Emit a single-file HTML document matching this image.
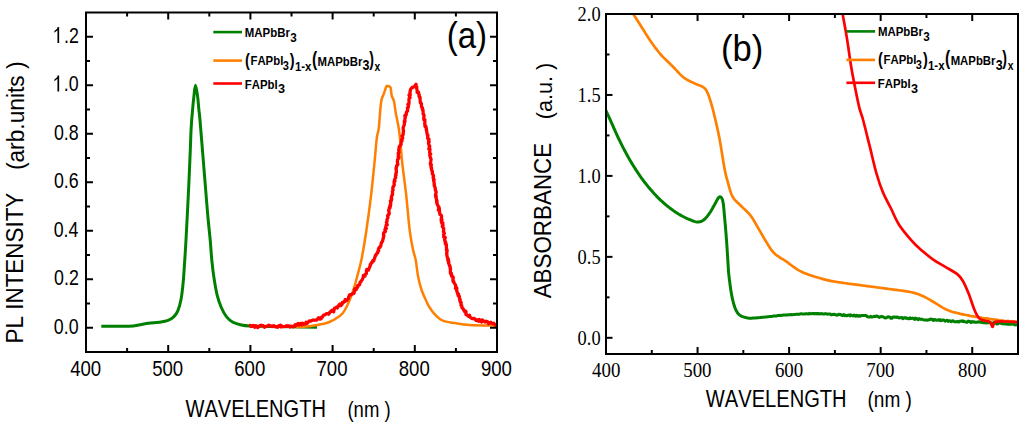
<!DOCTYPE html>
<html><head><meta charset="utf-8"><style>html,body{margin:0;padding:0;background:#fff;width:1024px;height:427px;overflow:hidden}svg{display:block}</style></head>
<body><svg width="1024" height="427" viewBox="0 0 1024 427" style="font-kerning:none">
<rect width="1024" height="427" fill="#fff"/>
<path d="M101.30,326.20 C105.92,326.20 122.55,326.45 129.00,326.20 C135.45,325.95 136.77,325.18 140.00,324.70 C143.23,324.22 145.23,323.72 148.40,323.30 C151.57,322.88 155.83,322.63 159.00,322.20 C162.17,321.77 164.95,321.58 167.40,320.70 C169.85,319.82 171.95,318.58 173.70,316.90 C175.45,315.22 176.67,313.58 177.90,310.60 C179.13,307.62 180.22,303.73 181.10,299.00 C181.98,294.27 182.60,288.52 183.20,282.20 C183.80,275.88 184.23,268.13 184.70,261.10 C185.17,254.07 185.57,247.68 186.00,240.00 C186.43,232.32 186.83,224.17 187.30,215.00 C187.77,205.83 188.30,195.83 188.80,185.00 C189.30,174.17 189.92,159.30 190.30,150.00 C190.68,140.70 190.77,135.40 191.10,129.20 C191.43,123.00 191.83,118.27 192.30,112.80 C192.77,107.33 193.37,101.00 193.90,96.40 C194.43,91.80 194.88,85.20 195.50,85.20 C196.12,85.20 197.03,92.27 197.60,96.40 C198.17,100.53 198.50,106.07 198.90,110.00 C199.30,113.93 199.28,111.67 200.00,120.00 C200.72,128.33 202.17,146.67 203.25,160.00 C204.33,173.33 205.68,190.00 206.50,200.00 C207.32,210.00 207.58,213.33 208.20,220.00 C208.82,226.67 209.58,233.15 210.20,240.00 C210.82,246.85 211.27,254.78 211.90,261.10 C212.53,267.42 213.13,272.28 214.00,277.90 C214.87,283.52 215.88,289.87 217.10,294.80 C218.32,299.73 219.72,303.82 221.30,307.50 C222.88,311.18 224.67,314.45 226.60,316.90 C228.53,319.35 230.43,320.85 232.90,322.20 C235.37,323.55 238.58,324.37 241.40,325.00 C244.22,325.63 245.03,325.77 249.80,326.00 C254.57,326.23 263.30,326.27 270.00,326.40 C276.70,326.53 282.17,326.67 290.00,326.80 C297.83,326.93 312.50,327.13 317.00,327.20" fill="none" stroke="#008000" stroke-width="3.00" stroke-linejoin="round" stroke-linecap="butt"/>
<path d="M296.00,327.20 C298.50,327.00 306.17,326.62 311.00,326.00 C315.83,325.38 321.47,324.38 325.00,323.50 C328.53,322.62 329.25,322.40 332.20,320.70 C335.15,319.00 339.53,317.35 342.70,313.30 C345.87,309.25 348.73,302.73 351.20,296.40 C353.67,290.07 355.75,281.63 357.50,275.30 C359.25,268.97 360.22,265.90 361.70,258.40 C363.18,250.90 364.83,240.85 366.40,230.30 C367.97,219.75 369.77,206.23 371.10,195.10 C372.43,183.97 373.45,172.98 374.40,163.50 C375.35,154.02 376.07,144.12 376.80,138.20 C377.53,132.28 378.18,133.15 378.80,128.00 C379.42,122.85 380.02,112.12 380.50,107.30 C380.98,102.48 381.12,101.42 381.70,99.10 C382.28,96.78 383.22,95.52 384.00,93.40 C384.78,91.28 385.72,87.60 386.40,86.40 C387.08,85.20 387.42,86.03 388.10,86.20 C388.78,86.37 389.90,85.83 390.50,87.40 C391.10,88.97 391.12,93.27 391.70,95.60 C392.28,97.93 393.32,98.48 394.00,101.40 C394.68,104.32 395.02,108.67 395.80,113.10 C396.58,117.53 397.90,122.75 398.70,128.00 C399.50,133.25 400.00,138.68 400.60,144.60 C401.20,150.52 401.37,155.08 402.30,163.50 C403.23,171.92 404.97,183.97 406.20,195.10 C407.43,206.23 408.55,221.15 409.70,230.30 C410.85,239.45 412.10,245.05 413.10,250.00 C414.10,254.95 414.87,255.60 415.70,260.00 C416.53,264.40 417.15,271.48 418.10,276.40 C419.05,281.32 420.03,285.40 421.40,289.50 C422.77,293.60 424.93,298.00 426.30,301.00 C427.67,304.00 428.10,305.18 429.60,307.50 C431.10,309.82 433.12,312.70 435.30,314.90 C437.48,317.10 439.42,319.33 442.70,320.70 C445.98,322.07 450.52,322.40 455.00,323.10 C459.48,323.80 462.77,324.50 469.60,324.90 C476.43,325.30 491.60,325.40 496.00,325.50" fill="none" stroke="#ff8000" stroke-width="2.50" stroke-linejoin="round" stroke-linecap="butt"/>
<path d="M249.07,325.59 L250.17,325.38 L250.83,326.14 L251.12,326.50 L252.12,326.30 L253.28,325.40 L254.93,327.31 L255.80,325.73 L257.77,327.61 L259.07,326.16 L260.98,325.24 L262.24,325.86 L262.73,325.40 L264.36,327.20 L265.59,326.57 L267.56,326.01 L268.78,325.19 L269.43,325.54 L271.43,326.09 L272.17,326.49 L273.59,325.74 L275.29,326.77 L275.84,326.44 L277.48,327.21 L279.02,325.68 L280.62,325.23 L281.16,326.87 L282.08,326.16 L283.19,326.60 L285.37,326.32 L286.73,325.60 L287.69,326.28 L288.70,325.86 L290.18,327.05 L290.80,326.23 L291.33,326.22 L293.50,326.81 L295.08,324.77 L295.81,325.55 L296.59,324.78 L298.00,323.62 L299.03,325.04 L300.28,323.41 L301.75,324.73 L302.47,323.33 L304.20,324.15 L305.66,323.78 L306.08,322.30 L307.32,323.20 L309.33,320.95 L309.56,320.81 L310.87,321.11 L312.56,320.16 L313.01,320.20 L314.69,320.20 L316.64,320.13 L317.23,319.54 L318.59,317.66 L319.99,319.12 L321.04,318.73 L321.46,317.24 L322.29,317.29 L323.38,315.25 L324.66,314.92 L325.89,314.04 L326.48,313.68 L327.62,313.60 L328.52,314.28 L330.29,311.71 L330.84,311.53 L332.02,310.22 L333.61,311.80 L334.07,309.77 L334.53,308.06 L335.82,307.74 L337.40,306.72 L337.31,308.00 L338.92,305.11 L339.89,303.99 L340.82,305.64 L342.21,304.07 L342.39,302.35 L343.15,302.62 L344.50,301.85 L345.12,299.62 L346.63,300.81 L347.57,299.53 L348.41,298.53 L348.53,297.10 L349.58,294.94 L350.04,294.67 L351.22,294.78 L353.01,293.13 L353.87,293.47 L354.60,290.95 L354.35,289.65 L355.03,288.62 L356.29,289.42 L357.28,287.29 L357.75,287.07 L357.72,285.63 L359.50,284.85 L359.99,282.96 L359.95,282.66 L360.85,281.58 L362.37,279.41 L362.32,279.74 L363.42,276.62 L363.32,275.49 L365.00,276.11 L364.70,275.04 L366.47,273.46 L366.34,272.03 L366.75,269.48 L368.53,269.97 L368.63,269.54 L369.18,268.23 L370.34,265.38 L370.24,264.48 L370.84,264.15 L371.46,262.67 L371.87,262.94 L372.70,260.80 L373.51,261.05 L374.06,259.75 L374.83,257.62 L375.44,255.30 L375.86,254.82 L375.80,255.54 L376.51,253.75 L377.73,252.90 L377.76,251.55 L378.67,250.74 L378.44,249.28 L378.97,247.64 L380.02,247.32 L380.11,247.04 L380.93,245.24 L380.92,244.40 L381.17,243.85 L381.48,242.36 L381.90,242.31 L382.57,240.98 L383.28,238.16 L383.18,238.68 L383.94,235.26 L383.41,234.68 L383.74,232.71 L384.14,232.32 L385.47,231.33 L384.89,229.89 L385.79,227.38 L386.32,228.46 L385.71,227.32 L386.19,224.97 L387.22,224.69 L386.40,222.44 L387.12,220.97 L386.97,219.66 L387.91,217.60 L387.96,217.40 L387.52,215.81 L388.57,214.96 L388.11,214.86 L389.31,213.49 L388.68,210.32 L388.85,210.33 L389.41,207.32 L389.86,208.04 L390.62,205.04 L389.99,205.47 L390.78,203.64 L390.39,200.73 L391.40,200.47 L390.82,200.62 L391.77,199.11 L391.26,198.14 L391.44,197.08 L392.14,194.68 L392.55,194.70 L392.45,191.18 L393.05,190.06 L392.75,188.52 L392.90,187.32 L393.46,186.33 L394.26,185.07 L394.13,183.58 L394.13,181.99 L394.20,180.83 L395.01,181.08 L394.49,179.75 L395.64,177.66 L395.68,177.38 L395.44,177.29 L395.49,175.29 L396.06,175.36 L395.80,173.78 L396.47,172.05 L396.27,170.05 L396.02,168.20 L396.24,168.48 L396.67,165.65 L396.65,166.07 L397.86,164.28 L397.29,161.81 L397.50,161.02 L397.52,159.65 L397.84,159.67 L398.95,157.29 L398.19,157.10 L398.45,154.28 L398.23,153.15 L399.02,152.32 L398.83,151.22 L398.74,149.56 L399.01,148.94 L399.10,147.06 L399.78,145.86 L400.44,145.37 L400.92,144.77 L401.13,144.59 L400.96,142.38 L402.00,140.99 L401.95,141.02 L401.41,139.77 L402.67,138.31 L402.63,137.76 L402.03,135.88 L402.68,135.48 L403.26,134.18 L403.16,133.01 L403.49,131.11 L403.09,127.98 L403.17,127.41 L403.33,127.21 L404.12,125.25 L404.40,123.99 L404.42,120.87 L405.01,121.50 L404.82,119.69 L405.20,117.30 L405.48,116.70 L404.79,115.76 L405.80,114.73 L406.28,114.72 L406.38,111.97 L406.75,111.99 L407.50,111.16 L407.70,108.83 L407.44,107.76 L408.40,106.90 L408.35,105.00 L407.86,104.41 L408.84,104.15 L409.02,101.69 L408.98,100.68 L409.09,98.32 L409.82,97.09 L410.11,97.62 L409.04,95.06 L410.26,95.18 L409.95,92.30 L409.82,93.16 L410.39,90.17 L410.86,88.86 L412.51,87.13 L413.02,87.42 L414.23,86.70 L414.63,86.27 L416.08,84.26 L415.85,86.20 L416.78,86.80 L416.70,88.25 L417.23,91.04 L417.12,92.33 L418.52,92.15 L418.95,94.95 L419.30,94.99 L418.99,96.16 L420.17,97.51 L419.73,98.08 L420.04,98.40 L420.28,102.27 L420.72,103.45 L420.89,102.73 L421.44,103.64 L421.49,106.82 L422.38,107.70 L422.29,109.27 L422.93,109.66 L422.89,109.74 L423.15,112.17 L423.42,114.06 L423.06,113.89 L424.14,115.44 L423.79,117.32 L423.80,119.62 L424.92,119.58 L424.78,121.02 L424.93,122.58 L424.71,123.27 L425.05,126.48 L425.71,125.96 L426.53,129.23 L426.22,128.24 L426.16,129.34 L426.63,130.56 L426.76,132.22 L427.43,135.07 L427.90,135.05 L427.69,136.56 L427.84,137.29 L427.62,138.34 L428.98,139.13 L428.54,141.63 L429.16,141.73 L428.54,142.98 L428.85,144.67 L429.70,146.89 L429.73,145.93 L428.77,148.90 L430.03,149.49 L429.77,149.47 L429.66,153.11 L430.37,154.19 L430.70,153.92 L429.72,155.02 L430.40,157.76 L431.08,159.24 L430.84,160.73 L430.73,161.55 L430.32,163.49 L430.71,165.15 L431.38,164.81 L430.84,165.88 L431.64,168.17 L431.10,167.58 L431.88,170.56 L431.94,170.93 L432.45,171.48 L432.30,173.70 L433.41,175.33 L433.59,176.27 L433.06,177.44 L434.16,179.62 L433.47,178.93 L433.89,181.79 L433.97,181.93 L434.48,184.96 L434.09,183.97 L434.43,186.33 L435.07,187.12 L435.42,189.90 L435.24,189.87 L436.04,191.48 L436.04,192.57 L435.46,195.19 L435.74,196.87 L436.19,195.99 L436.10,198.00 L436.93,200.73 L436.51,200.58 L436.85,203.33 L437.02,202.14 L437.17,204.19 L438.51,206.59 L438.55,207.99 L439.06,207.33 L438.34,209.98 L439.32,208.68 L439.55,210.98 L439.51,212.15 L439.59,212.53 L440.06,214.63 L441.27,215.23 L441.60,216.65 L441.12,219.50 L442.02,219.82 L441.23,221.01 L441.85,223.21 L441.79,222.80 L442.88,222.98 L442.42,226.09 L443.06,225.22 L442.30,226.49 L443.65,228.32 L443.66,231.43 L443.39,231.41 L444.36,233.28 L443.62,234.59 L443.88,234.55 L443.66,236.96 L445.05,237.86 L445.29,237.53 L444.57,239.98 L445.73,242.53 L445.20,242.02 L445.48,243.97 L446.34,244.48 L446.39,247.22 L446.63,248.60 L446.56,248.69 L446.39,250.00 L447.19,250.44 L446.62,253.30 L446.87,252.57 L446.85,255.33 L447.48,257.86 L448.43,259.23 L447.85,258.19 L447.85,260.52 L448.87,261.60 L448.46,262.71 L449.19,264.54 L449.58,266.14 L449.70,265.40 L450.18,267.00 L450.09,268.37 L450.61,269.18 L450.28,270.54 L450.47,273.41 L451.34,273.15 L451.43,276.06 L451.91,275.25 L452.64,277.51 L453.23,277.24 L452.92,280.27 L453.77,281.69 L453.10,281.26 L453.59,282.18 L455.11,284.38 L455.46,285.01 L455.80,286.39 L455.45,288.42 L456.77,287.85 L456.76,290.37 L456.71,290.91 L457.05,291.69 L457.64,293.93 L458.60,294.13 L458.15,295.61 L459.40,296.44 L459.28,297.71 L460.27,299.86 L459.68,299.95 L460.48,302.37 L461.18,302.41 L460.96,305.19 L461.71,305.28 L462.03,308.14 L462.52,308.19 L463.11,308.78 L464.53,311.51 L464.67,310.56 L465.98,311.64 L465.91,314.44 L467.38,315.16 L468.33,316.19 L469.43,315.13 L469.93,316.91 L471.88,318.57 L472.16,318.37 L473.59,318.56 L474.42,318.44 L476.08,320.52 L476.74,319.77 L478.86,321.36 L479.29,319.50 L481.48,322.02 L482.08,319.93 L483.82,321.10 L484.93,322.01 L486.22,321.19 L487.65,321.71 L488.65,323.68 L490.70,322.28 L491.33,323.15 L493.06,323.38 L493.73,323.27 L495.52,325.17 L495.40,324.46" fill="none" stroke="#ff0000" stroke-width="3.30" stroke-linejoin="round" stroke-linecap="butt"/>
<rect x="86.00" y="12.50" width="411.00" height="339.50" fill="none" stroke="#000" stroke-width="2"/>
<line x1="127.10" y1="352.00" x2="127.10" y2="348.00" stroke="#000" stroke-width="2.00"/>
<line x1="127.10" y1="12.50" x2="127.10" y2="16.50" stroke="#000" stroke-width="2.00"/>
<line x1="168.20" y1="352.00" x2="168.20" y2="345.00" stroke="#000" stroke-width="2.00"/>
<line x1="168.20" y1="12.50" x2="168.20" y2="19.50" stroke="#000" stroke-width="2.00"/>
<line x1="209.30" y1="352.00" x2="209.30" y2="348.00" stroke="#000" stroke-width="2.00"/>
<line x1="209.30" y1="12.50" x2="209.30" y2="16.50" stroke="#000" stroke-width="2.00"/>
<line x1="250.40" y1="352.00" x2="250.40" y2="345.00" stroke="#000" stroke-width="2.00"/>
<line x1="250.40" y1="12.50" x2="250.40" y2="19.50" stroke="#000" stroke-width="2.00"/>
<line x1="291.50" y1="352.00" x2="291.50" y2="348.00" stroke="#000" stroke-width="2.00"/>
<line x1="291.50" y1="12.50" x2="291.50" y2="16.50" stroke="#000" stroke-width="2.00"/>
<line x1="332.60" y1="352.00" x2="332.60" y2="345.00" stroke="#000" stroke-width="2.00"/>
<line x1="332.60" y1="12.50" x2="332.60" y2="19.50" stroke="#000" stroke-width="2.00"/>
<line x1="373.70" y1="352.00" x2="373.70" y2="348.00" stroke="#000" stroke-width="2.00"/>
<line x1="373.70" y1="12.50" x2="373.70" y2="16.50" stroke="#000" stroke-width="2.00"/>
<line x1="414.80" y1="352.00" x2="414.80" y2="345.00" stroke="#000" stroke-width="2.00"/>
<line x1="414.80" y1="12.50" x2="414.80" y2="19.50" stroke="#000" stroke-width="2.00"/>
<line x1="455.90" y1="352.00" x2="455.90" y2="348.00" stroke="#000" stroke-width="2.00"/>
<line x1="455.90" y1="12.50" x2="455.90" y2="16.50" stroke="#000" stroke-width="2.00"/>
<line x1="86.00" y1="327.75" x2="93.00" y2="327.75" stroke="#000" stroke-width="2.00"/>
<line x1="497.00" y1="327.75" x2="490.00" y2="327.75" stroke="#000" stroke-width="2.00"/>
<line x1="86.00" y1="303.50" x2="90.00" y2="303.50" stroke="#000" stroke-width="2.00"/>
<line x1="497.00" y1="303.50" x2="493.00" y2="303.50" stroke="#000" stroke-width="2.00"/>
<line x1="86.00" y1="279.25" x2="93.00" y2="279.25" stroke="#000" stroke-width="2.00"/>
<line x1="497.00" y1="279.25" x2="490.00" y2="279.25" stroke="#000" stroke-width="2.00"/>
<line x1="86.00" y1="255.00" x2="90.00" y2="255.00" stroke="#000" stroke-width="2.00"/>
<line x1="497.00" y1="255.00" x2="493.00" y2="255.00" stroke="#000" stroke-width="2.00"/>
<line x1="86.00" y1="230.75" x2="93.00" y2="230.75" stroke="#000" stroke-width="2.00"/>
<line x1="497.00" y1="230.75" x2="490.00" y2="230.75" stroke="#000" stroke-width="2.00"/>
<line x1="86.00" y1="206.50" x2="90.00" y2="206.50" stroke="#000" stroke-width="2.00"/>
<line x1="497.00" y1="206.50" x2="493.00" y2="206.50" stroke="#000" stroke-width="2.00"/>
<line x1="86.00" y1="182.25" x2="93.00" y2="182.25" stroke="#000" stroke-width="2.00"/>
<line x1="497.00" y1="182.25" x2="490.00" y2="182.25" stroke="#000" stroke-width="2.00"/>
<line x1="86.00" y1="158.00" x2="90.00" y2="158.00" stroke="#000" stroke-width="2.00"/>
<line x1="497.00" y1="158.00" x2="493.00" y2="158.00" stroke="#000" stroke-width="2.00"/>
<line x1="86.00" y1="133.75" x2="93.00" y2="133.75" stroke="#000" stroke-width="2.00"/>
<line x1="497.00" y1="133.75" x2="490.00" y2="133.75" stroke="#000" stroke-width="2.00"/>
<line x1="86.00" y1="109.50" x2="90.00" y2="109.50" stroke="#000" stroke-width="2.00"/>
<line x1="497.00" y1="109.50" x2="493.00" y2="109.50" stroke="#000" stroke-width="2.00"/>
<line x1="86.00" y1="85.25" x2="93.00" y2="85.25" stroke="#000" stroke-width="2.00"/>
<line x1="497.00" y1="85.25" x2="490.00" y2="85.25" stroke="#000" stroke-width="2.00"/>
<line x1="86.00" y1="61.00" x2="90.00" y2="61.00" stroke="#000" stroke-width="2.00"/>
<line x1="497.00" y1="61.00" x2="493.00" y2="61.00" stroke="#000" stroke-width="2.00"/>
<line x1="86.00" y1="36.75" x2="93.00" y2="36.75" stroke="#000" stroke-width="2.00"/>
<line x1="497.00" y1="36.75" x2="490.00" y2="36.75" stroke="#000" stroke-width="2.00"/>
<text transform="translate(53.87,333.91) scale(0.7800,1)" font-family='"Liberation Sans",sans-serif' font-size="22.80">0.0</text>
<text transform="translate(54.07,285.41) scale(0.7800,1)" font-family='"Liberation Sans",sans-serif' font-size="22.80">0.2</text>
<text transform="translate(53.70,236.91) scale(0.7800,1)" font-family='"Liberation Sans",sans-serif' font-size="22.80">0.4</text>
<text transform="translate(53.96,188.41) scale(0.7800,1)" font-family='"Liberation Sans",sans-serif' font-size="22.80">0.6</text>
<text transform="translate(53.95,139.91) scale(0.7800,1)" font-family='"Liberation Sans",sans-serif' font-size="22.80">0.8</text>
<text transform="translate(63.76,91.41) scale(0.7800,1)" font-family='"Liberation Sans",sans-serif' font-size="22.80">.0</text>
<path d="M59.15,75.57 L59.15,91.41 L57.45,91.41 L57.45,78.77 L54.40,81.27 L54.40,79.47 Z" fill="#000"/>
<path d="M57.45,75.57 L59.15,75.57 L57.45,78.77 Z" fill="#000"/>
<text transform="translate(63.96,42.91) scale(0.7800,1)" font-family='"Liberation Sans",sans-serif' font-size="22.80">.2</text>
<path d="M59.15,27.07 L59.15,42.91 L57.45,42.91 L57.45,30.27 L54.40,32.77 L54.40,30.97 Z" fill="#000"/>
<path d="M57.45,27.07 L59.15,27.07 L57.45,30.27 Z" fill="#000"/>
<text transform="translate(70.13,376.00) scale(0.8230,1)" font-family='"Liberation Sans",sans-serif' font-size="22.60">400</text>
<text transform="translate(152.17,376.00) scale(0.8230,1)" font-family='"Liberation Sans",sans-serif' font-size="22.60">500</text>
<text transform="translate(234.27,376.00) scale(0.8230,1)" font-family='"Liberation Sans",sans-serif' font-size="22.60">600</text>
<text transform="translate(316.47,376.00) scale(0.8230,1)" font-family='"Liberation Sans",sans-serif' font-size="22.60">700</text>
<text transform="translate(398.74,376.00) scale(0.8230,1)" font-family='"Liberation Sans",sans-serif' font-size="22.60">800</text>
<text transform="translate(480.91,376.00) scale(0.8230,1)" font-family='"Liberation Sans",sans-serif' font-size="22.60">900</text>
<text transform="translate(185.51,416.78) scale(0.8327,1)" font-family='"Liberation Sans",sans-serif' font-size="24.10" fill="#000">WAVELENGTH</text>
<text transform="translate(347.45,416.81) scale(0.8276,1)" font-family='"Liberation Sans",sans-serif' font-size="22.37" fill="#000">(nm )</text>
<text transform="translate(22.58,343.44) rotate(-90) scale(0.9308,1)" font-family='"Liberation Sans",sans-serif' font-size="24.10" fill="#000">PL INTENSITY</text>
<text transform="translate(23.70,170.11) rotate(-90) scale(0.9480,1)" font-family='"Liberation Sans",sans-serif' font-size="24.00" fill="#000">(arb.units )</text>
<text transform="translate(446.65,48.48) scale(0.8749,1)" font-family='"Liberation Sans",sans-serif' font-size="37.78" fill="#000">(a)</text>
<line x1="213.30" y1="32.10" x2="242.00" y2="32.10" stroke="#008000" stroke-width="2.6"/>
<line x1="213.30" y1="60.60" x2="242.00" y2="60.60" stroke="#ff8000" stroke-width="2.6"/>
<line x1="213.30" y1="83.50" x2="242.00" y2="83.50" stroke="#ff0000" stroke-width="2.6"/>
<text transform="translate(244.83,36.67) scale(0.8576,1)" font-family='"Liberation Sans",sans-serif' font-weight="bold" font-size="13.34" fill="#000">MAPbBr</text>
<text transform="translate(290.13,42.05) scale(0.8807,1)" font-family='"Liberation Sans",sans-serif' font-weight="bold" font-size="13.25" fill="#000">3</text>
<text transform="translate(244.98,65.94) scale(0.7607,1)" font-family='"Liberation Sans",sans-serif' font-weight="bold" font-size="19.10" fill="#000">(</text>
<text transform="translate(250.44,65.18) scale(0.9198,1)" font-family='"Liberation Sans",sans-serif' font-weight="bold" font-size="12.39" fill="#000">FAPbI</text>
<text transform="translate(282.75,70.05) scale(0.8177,1)" font-family='"Liberation Sans",sans-serif' font-weight="bold" font-size="13.53" fill="#000">3</text>
<text transform="translate(289.79,65.94) scale(0.7607,1)" font-family='"Liberation Sans",sans-serif' font-weight="bold" font-size="19.10" fill="#000">)</text>
<text transform="translate(294.88,70.60) scale(0.8501,1)" font-family='"Liberation Sans",sans-serif' font-weight="bold" font-size="13.52" fill="#000">1-x</text>
<text transform="translate(312.02,65.99) scale(0.8073,1)" font-family='"Liberation Sans",sans-serif' font-weight="bold" font-size="19.31" fill="#000">(</text>
<text transform="translate(317.54,65.67) scale(0.8605,1)" font-family='"Liberation Sans",sans-serif' font-weight="bold" font-size="13.21" fill="#000">MAPbBr</text>
<text transform="translate(362.61,70.34) scale(0.8676,1)" font-family='"Liberation Sans",sans-serif' font-weight="bold" font-size="14.38" fill="#000">3</text>
<text transform="translate(369.19,65.99) scale(0.7339,1)" font-family='"Liberation Sans",sans-serif' font-weight="bold" font-size="19.31" fill="#000">)</text>
<text transform="translate(374.53,70.50) scale(0.7911,1)" font-family='"Liberation Sans",sans-serif' font-weight="bold" font-size="13.06" fill="#000">x</text>
<text transform="translate(244.74,88.67) scale(0.8629,1)" font-family='"Liberation Sans",sans-serif' font-weight="bold" font-size="13.21" fill="#000">FAPbI</text>
<text transform="translate(278.01,93.36) scale(0.9881,1)" font-family='"Liberation Sans",sans-serif' font-weight="bold" font-size="12.83" fill="#000">3</text>
<clipPath id="cb"><rect x="606.0" y="14.0" width="412.0" height="340.0"/></clipPath>
<g clip-path="url(#cb)">
<path d="M604.00,106.50 L604.25,107.03 L604.55,107.68 L604.89,108.42 L605.28,109.25 L605.70,110.16 L606.16,111.13 L606.63,112.15 L607.12,113.21 L607.63,114.29 L608.14,115.39 L608.65,116.49 L609.16,117.58 L609.65,118.65 L610.12,119.69 L610.58,120.67 L611.00,121.60 L611.46,122.62 L611.91,123.62 L612.35,124.62 L612.79,125.61 L613.22,126.59 L613.64,127.56 L614.06,128.53 L614.48,129.48 L614.90,130.43 L615.31,131.38 L615.73,132.32 L616.15,133.25 L616.57,134.18 L617.00,135.10 L617.46,136.09 L617.92,137.07 L618.38,138.04 L618.85,139.01 L619.31,139.97 L619.77,140.93 L620.23,141.87 L620.69,142.81 L621.15,143.74 L621.62,144.67 L622.08,145.59 L622.54,146.50 L623.00,147.40 L623.50,148.37 L624.00,149.33 L624.50,150.29 L625.00,151.23 L625.50,152.17 L626.00,153.10 L626.50,154.02 L627.00,154.93 L627.50,155.84 L628.00,156.73 L628.50,157.62 L629.00,158.50 L629.55,159.45 L630.09,160.39 L630.64,161.31 L631.18,162.23 L631.73,163.13 L632.27,164.03 L632.82,164.92 L633.36,165.80 L633.91,166.67 L634.45,167.54 L635.00,168.40 L635.60,169.34 L636.20,170.27 L636.80,171.19 L637.40,172.10 L638.00,173.00 L638.60,173.89 L639.20,174.77 L639.80,175.64 L640.40,176.50 L641.00,177.35 L641.67,178.28 L642.33,179.20 L643.00,180.10 L643.67,180.99 L644.33,181.87 L645.00,182.74 L645.67,183.60 L646.33,184.44 L647.00,185.28 L647.67,186.11 L648.33,186.92 L649.00,187.73 L649.67,188.53 L650.33,189.31 L651.00,190.09 L651.67,190.85 L652.33,191.60 L653.00,192.35 L653.75,193.18 L654.50,193.99 L655.25,194.79 L656.00,195.58 L656.75,196.35 L657.50,197.12 L658.25,197.87 L659.00,198.61 L659.75,199.34 L660.50,200.06 L661.25,200.76 L662.00,201.46 L662.75,202.14 L663.50,202.81 L664.25,203.47 L665.00,204.12 L665.86,204.85 L666.71,205.56 L667.57,206.26 L668.43,206.94 L669.29,207.61 L670.14,208.27 L671.00,208.91 L671.86,209.54 L672.71,210.15 L673.57,210.76 L674.43,211.34 L675.29,211.92 L676.14,212.48 L677.00,213.03 L678.00,213.65 L679.00,214.26 L680.00,214.84 L681.00,215.41 L682.00,215.97 L683.00,216.50 L683.97,217.01 L684.91,217.50 L685.85,217.97 L686.82,218.43 L687.86,218.88 L689.00,219.34 L689.95,219.71 L690.98,220.13 L692.06,220.56 L693.17,220.99 L694.28,221.37 L695.38,221.68 L696.42,221.90 L697.40,222.00 L698.60,221.97 L699.72,221.82 L700.79,221.52 L701.83,221.09 L702.86,220.52 L703.90,219.80 L704.60,219.22 L705.31,218.54 L706.01,217.77 L706.72,216.95 L707.41,216.08 L708.09,215.18 L708.75,214.27 L709.39,213.37 L710.00,212.50 L710.58,211.63 L711.14,210.74 L711.67,209.83 L712.19,208.92 L712.69,208.00 L713.19,207.08 L713.69,206.17 L714.19,205.27 L714.70,204.40 L715.29,203.37 L715.89,202.24 L716.49,201.09 L717.08,199.97 L717.67,198.94 L718.24,198.06 L718.78,197.39 L719.30,197.00 L720.27,196.81 L721.17,197.28 L721.98,198.51 L722.70,200.60 L722.85,201.24 L722.99,201.94 L723.13,202.71 L723.25,203.54 L723.37,204.43 L723.48,205.36 L723.59,206.33 L723.69,207.35 L723.79,208.40 L723.89,209.48 L723.99,210.59 L724.09,211.71 L724.18,212.86 L724.28,214.01 L724.39,215.17 L724.49,216.34 L724.60,217.50 L724.69,218.41 L724.77,219.34 L724.86,220.30 L724.95,221.28 L725.04,222.28 L725.13,223.30 L725.23,224.33 L725.32,225.37 L725.41,226.43 L725.50,227.49 L725.59,228.56 L725.68,229.63 L725.77,230.70 L725.85,231.77 L725.94,232.83 L726.03,233.89 L726.11,234.94 L726.19,235.99 L726.27,237.01 L726.35,238.03 L726.43,239.02 L726.50,240.00 L726.58,241.06 L726.65,242.12 L726.73,243.17 L726.80,244.22 L726.87,245.26 L726.94,246.30 L727.00,247.34 L727.07,248.36 L727.13,249.38 L727.19,250.39 L727.26,251.40 L727.32,252.39 L727.38,253.38 L727.44,254.36 L727.50,255.33 L727.56,256.28 L727.62,257.23 L727.68,258.17 L727.74,259.09 L727.80,260.00 L727.87,261.11 L727.94,262.16 L728.00,263.18 L728.06,264.17 L728.11,265.13 L728.16,266.08 L728.21,267.01 L728.27,267.94 L728.33,268.88 L728.39,269.83 L728.47,270.80 L728.55,271.80 L728.64,272.83 L728.75,273.90 L728.86,275.02 L729.00,276.20 L729.11,277.10 L729.22,278.04 L729.34,279.02 L729.46,280.02 L729.59,281.05 L729.72,282.11 L729.86,283.18 L730.00,284.27 L730.15,285.37 L730.30,286.47 L730.46,287.58 L730.62,288.69 L730.78,289.78 L730.95,290.87 L731.12,291.94 L731.29,293.00 L731.47,294.03 L731.65,295.04 L731.83,296.01 L732.02,296.95 L732.21,297.85 L732.40,298.70 L732.70,299.99 L733.01,301.24 L733.32,302.44 L733.64,303.61 L733.96,304.74 L734.29,305.82 L734.64,306.86 L734.99,307.85 L735.37,308.79 L735.75,309.69 L736.16,310.55 L736.58,311.35 L737.03,312.10 L737.50,312.80 L738.27,313.77 L739.09,314.58 L739.95,315.26 L740.85,315.82 L741.79,316.29 L742.76,316.69 L743.78,317.02 L744.82,317.32 L745.90,317.60 L746.76,317.80 L747.55,317.96 L748.32,318.07 L749.09,318.14 L749.89,318.17 L750.76,318.17 L751.73,318.14 L752.83,318.09 L754.08,318.01 L755.53,317.91 L757.20,317.80 L757.92,317.75 L758.69,317.69 L759.49,317.62 L760.33,317.55 L761.21,317.46 L762.11,317.36 L763.05,317.27 L763.99,317.15 L764.97,317.09 L765.98,317.00 L767.00,316.89 L768.05,316.68 L769.14,316.59 L770.22,316.46 L771.25,316.42 L772.39,316.32 L773.49,316.06 L774.59,316.06 L775.67,315.99 L776.75,315.89 L777.91,315.56 L778.91,315.60 L780.10,315.34 L781.11,315.42 L782.15,315.36 L783.25,315.03 L784.26,315.10 L785.29,315.06 L786.24,315.03 L787.29,314.90 L788.34,314.75 L789.31,314.81 L790.43,314.75 L791.36,314.47 L792.27,314.69 L793.42,314.56 L794.35,314.40 L795.51,314.44 L796.43,314.13 L797.40,314.35 L798.40,314.20 L799.47,314.25 L800.54,313.87 L801.32,313.81 L802.45,313.94 L803.57,314.07 L804.34,314.00 L805.58,313.99 L806.50,313.59 L807.59,313.89 L808.53,313.94 L809.41,313.37 L810.47,313.83 L811.34,313.79 L812.57,313.42 L813.44,313.73 L814.42,313.39 L815.35,313.79 L816.53,313.59 L817.21,313.88 L818.41,313.46 L819.26,314.01 L820.29,313.75 L821.02,313.84 L821.80,313.56 L822.69,314.03 L823.66,313.96 L824.58,313.98 L825.38,313.62 L826.68,313.97 L827.22,314.26 L828.50,313.89 L829.40,314.13 L830.38,313.89 L831.20,314.87 L832.69,314.46 L833.67,314.31 L834.95,314.54 L836.25,314.96 L837.46,315.24 L838.49,314.35 L839.84,314.56 L840.58,314.46 L841.66,315.38 L842.45,315.51 L843.57,314.58 L844.27,314.99 L844.89,315.67 L845.88,315.26 L847.02,315.76 L847.98,315.15 L848.80,314.92 L850.07,315.96 L850.60,314.86 L851.61,315.28 L853.00,316.01 L853.98,314.99 L854.97,315.87 L855.91,316.28 L856.56,315.25 L858.06,316.33 L859.06,315.54 L860.06,316.20 L860.80,315.67 L861.97,315.44 L863.20,315.55 L864.11,315.56 L865.50,315.43 L866.61,315.73 L867.21,316.83 L868.43,316.90 L869.99,316.89 L870.55,316.30 L871.61,317.07 L873.25,316.68 L874.05,316.30 L875.42,316.56 L876.35,316.09 L877.11,316.01 L878.58,316.84 L879.20,317.40 L880.36,316.73 L881.33,316.56 L882.93,316.71 L883.44,317.02 L884.60,317.73 L885.47,317.91 L886.45,317.83 L887.95,316.79 L888.82,316.97 L889.66,316.89 L890.76,318.21 L892.29,318.16 L892.58,317.21 L894.24,316.89 L895.12,317.33 L896.34,316.95 L897.22,317.53 L897.70,317.05 L899.27,317.95 L899.77,317.86 L901.37,317.58 L902.12,317.51 L902.82,318.59 L904.26,317.73 L904.78,317.62 L906.22,318.33 L906.97,317.93 L908.26,318.80 L909.43,318.66 L909.96,317.90 L911.40,318.51 L912.41,318.01 L913.50,318.52 L914.54,319.43 L915.28,318.13 L916.63,318.94 L917.62,318.66 L918.09,319.63 L919.25,318.62 L920.27,319.38 L921.00,319.32 L922.37,319.37 L923.12,319.75 L924.70,320.05 L925.32,319.87 L926.38,319.99 L927.14,320.25 L928.88,319.70 L929.54,319.82 L930.58,319.06 L931.94,319.44 L932.33,319.31 L933.40,320.51 L934.24,319.41 L935.80,319.62 L936.29,320.33 L937.77,320.26 L938.90,319.65 L940.08,320.68 L940.46,319.79 L941.86,320.45 L942.74,319.90 L943.89,319.98 L945.09,321.19 L945.78,320.78 L947.32,320.18 L948.43,321.48 L949.14,320.70 L950.55,320.93 L951.25,321.64 L952.61,320.73 L953.23,320.78 L954.44,321.87 L955.79,321.81 L956.84,321.76 L957.28,321.28 L959.05,322.00 L959.52,321.24 L960.87,321.20 L961.82,320.78 L962.77,321.52 L963.47,320.99 L965.25,322.06 L966.24,321.88 L967.16,322.33 L968.22,321.02 L969.03,321.44 L970.06,321.51 L970.94,322.60 L971.99,321.57 L972.88,321.91 L974.20,321.73 L974.64,322.35 L975.45,322.31 L977.07,322.23 L977.45,322.20 L978.60,321.74 L979.19,321.76 L980.23,322.25 L981.39,322.05 L982.41,322.59 L984.20,322.76 L985.17,322.88 L986.07,323.04 L987.48,322.84 L988.81,322.78 L989.77,322.48 L990.90,322.97 L992.23,323.15 L993.13,322.84 L995.00,322.72 L995.94,323.19 L996.89,324.04 L998.06,323.76 L999.10,322.69 L1000.80,323.35 L1001.27,323.32 L1002.68,323.93 L1003.49,323.17 L1005.23,324.05 L1005.62,323.46 L1006.79,324.06 L1007.98,324.39 L1009.10,323.90 L1009.96,324.31 L1010.87,323.93 L1011.75,324.35 L1012.68,323.46 L1013.43,323.31 L1014.10,324.28 L1014.59,324.92 L1015.32,324.08 L1016.12,324.84 L1016.55,324.08 L1016.96,324.23" fill="none" stroke="#008000" stroke-width="3.00" stroke-linejoin="round" stroke-linecap="butt"/>
<path d="M632.00,12.00 L632.31,12.49 L632.68,13.07 L633.10,13.73 L633.57,14.47 L634.09,15.28 L634.63,16.14 L635.22,17.05 L635.82,18.00 L636.45,18.98 L637.09,19.99 L637.73,21.00 L638.39,22.03 L639.04,23.04 L639.68,24.05 L640.31,25.03 L640.92,25.99 L641.50,26.90 L642.04,27.75 L642.58,28.60 L643.13,29.47 L643.68,30.34 L644.22,31.22 L644.77,32.10 L645.33,32.98 L645.88,33.86 L646.43,34.74 L646.98,35.61 L647.54,36.48 L648.09,37.35 L648.65,38.20 L649.20,39.05 L649.75,39.88 L650.30,40.70 L650.85,41.51 L651.40,42.30 L652.01,43.17 L652.62,44.03 L653.22,44.87 L653.82,45.70 L654.42,46.52 L655.02,47.33 L655.61,48.12 L656.21,48.91 L656.81,49.69 L657.42,50.47 L658.03,51.23 L658.65,51.99 L659.27,52.75 L659.90,53.50 L660.55,54.25 L661.20,55.00 L661.91,55.79 L662.63,56.57 L663.37,57.33 L664.11,58.09 L664.86,58.84 L665.62,59.58 L666.38,60.32 L667.15,61.05 L667.92,61.78 L668.69,62.51 L669.45,63.25 L670.22,63.98 L670.99,64.71 L671.75,65.45 L672.50,66.20 L673.25,66.96 L674.00,67.74 L674.74,68.54 L675.49,69.34 L676.24,70.15 L676.98,70.96 L677.73,71.77 L678.47,72.57 L679.22,73.35 L679.96,74.11 L680.71,74.86 L681.46,75.57 L682.20,76.25 L682.95,76.90 L683.70,77.50 L684.65,78.20 L685.61,78.85 L686.59,79.45 L687.57,80.01 L688.55,80.53 L689.53,81.02 L690.49,81.49 L691.44,81.94 L692.38,82.37 L693.28,82.78 L694.16,83.19 L695.00,83.60 L696.08,84.11 L697.14,84.55 L698.17,84.94 L699.16,85.30 L700.11,85.66 L701.02,86.01 L701.87,86.40 L702.67,86.82 L703.40,87.30 L704.22,87.94 L704.91,88.55 L705.49,89.19 L706.02,89.90 L706.52,90.73 L707.04,91.71 L707.60,92.90 L707.92,93.63 L708.25,94.42 L708.57,95.26 L708.89,96.15 L709.22,97.08 L709.54,98.05 L709.86,99.06 L710.18,100.09 L710.51,101.16 L710.83,102.24 L711.15,103.35 L711.48,104.47 L711.80,105.60 L712.05,106.48 L712.30,107.38 L712.55,108.31 L712.80,109.25 L713.05,110.21 L713.30,111.18 L713.55,112.17 L713.80,113.17 L714.05,114.18 L714.30,115.20 L714.55,116.22 L714.79,117.25 L715.04,118.28 L715.28,119.32 L715.52,120.35 L715.76,121.38 L716.00,122.40 L716.22,123.35 L716.43,124.28 L716.65,125.20 L716.85,126.11 L717.06,127.01 L717.26,127.91 L717.47,128.81 L717.67,129.72 L717.87,130.64 L718.07,131.58 L718.28,132.55 L718.48,133.54 L718.69,134.56 L718.90,135.62 L719.12,136.71 L719.34,137.86 L719.57,139.05 L719.80,140.30 L719.95,141.14 L720.11,142.03 L720.27,142.95 L720.44,143.91 L720.61,144.91 L720.78,145.93 L720.95,146.97 L721.13,148.04 L721.30,149.12 L721.48,150.22 L721.66,151.33 L721.84,152.44 L722.02,153.56 L722.20,154.68 L722.38,155.80 L722.56,156.91 L722.73,158.01 L722.91,159.09 L723.08,160.16 L723.25,161.20 L723.42,162.23 L723.59,163.22 L723.75,164.18 L723.91,165.11 L724.06,166.00 L724.21,166.85 L724.36,167.65 L724.50,168.40 L724.80,169.98 L725.08,171.36 L725.32,172.57 L725.55,173.64 L725.77,174.60 L725.98,175.49 L726.19,176.33 L726.41,177.16 L726.65,178.01 L726.90,178.91 L727.19,179.90 L727.50,181.00 L727.75,181.90 L728.01,182.84 L728.27,183.82 L728.53,184.82 L728.80,185.84 L729.08,186.87 L729.37,187.91 L729.66,188.96 L729.97,189.99 L730.29,191.01 L730.62,192.02 L730.96,192.99 L731.32,193.94 L731.70,194.84 L732.09,195.70 L732.50,196.50 L733.08,197.49 L733.69,198.41 L734.34,199.26 L735.01,200.06 L735.71,200.81 L736.43,201.53 L737.16,202.23 L737.90,202.92 L738.65,203.61 L739.40,204.32 L740.15,205.04 L740.90,205.80 L741.60,206.52 L742.32,207.23 L743.06,207.93 L743.81,208.64 L744.57,209.34 L745.33,210.05 L746.08,210.76 L746.84,211.48 L747.57,212.20 L748.29,212.93 L748.99,213.68 L749.66,214.43 L750.30,215.20 L750.95,216.05 L751.57,216.90 L752.15,217.76 L752.71,218.63 L753.25,219.51 L753.78,220.40 L754.30,221.30 L754.82,222.21 L755.35,223.14 L755.88,224.08 L756.43,225.03 L757.00,226.00 L757.50,226.84 L758.00,227.70 L758.51,228.58 L759.01,229.46 L759.52,230.35 L760.03,231.26 L760.55,232.17 L761.07,233.08 L761.59,234.00 L762.12,234.93 L762.66,235.85 L763.20,236.77 L763.75,237.69 L764.30,238.60 L764.83,239.47 L765.37,240.36 L765.91,241.27 L766.47,242.20 L767.03,243.14 L767.60,244.07 L768.17,245.01 L768.74,245.93 L769.31,246.83 L769.88,247.71 L770.44,248.55 L770.99,249.36 L771.54,250.13 L772.08,250.84 L772.60,251.50 L773.46,252.48 L774.31,253.33 L775.14,254.08 L775.97,254.74 L776.78,255.33 L777.57,255.88 L778.34,256.39 L779.08,256.89 L779.80,257.40 L780.72,258.04 L781.44,258.48 L782.12,258.86 L782.90,259.29 L783.91,259.89 L785.30,260.80 L785.90,261.22 L786.56,261.69 L787.26,262.20 L788.01,262.75 L788.79,263.34 L789.61,263.96 L790.45,264.59 L791.32,265.24 L792.21,265.89 L793.10,266.54 L794.01,267.19 L794.92,267.83 L795.82,268.45 L796.71,269.04 L797.60,269.60 L798.46,270.12 L799.30,270.60 L800.23,271.10 L801.13,271.56 L802.03,272.00 L802.91,272.41 L803.79,272.80 L804.67,273.17 L805.55,273.52 L806.45,273.86 L807.36,274.20 L808.29,274.53 L809.24,274.85 L810.23,275.18 L811.24,275.51 L812.30,275.85 L813.40,276.20 L814.24,276.47 L815.09,276.73 L815.94,277.00 L816.80,277.26 L817.66,277.53 L818.54,277.79 L819.42,278.05 L820.33,278.31 L821.24,278.57 L822.18,278.83 L823.14,279.09 L824.12,279.34 L825.12,279.59 L826.15,279.84 L827.21,280.09 L828.30,280.34 L829.42,280.58 L830.58,280.82 L831.77,281.06 L833.00,281.30 L833.85,281.46 L834.73,281.61 L835.63,281.77 L836.57,281.92 L837.52,282.08 L838.50,282.23 L839.50,282.38 L840.51,282.54 L841.55,282.69 L842.59,282.84 L843.65,282.99 L844.72,283.14 L845.79,283.28 L846.88,283.43 L847.96,283.58 L849.05,283.72 L850.14,283.86 L851.23,284.00 L852.31,284.15 L853.39,284.29 L854.45,284.42 L855.51,284.56 L856.56,284.70 L857.60,284.83 L858.61,284.96 L859.61,285.09 L860.59,285.22 L861.55,285.35 L862.49,285.48 L863.40,285.60 L864.56,285.76 L865.69,285.91 L866.80,286.06 L867.88,286.21 L868.95,286.35 L870.00,286.49 L871.04,286.63 L872.06,286.76 L873.06,286.89 L874.06,287.02 L875.05,287.15 L876.03,287.28 L877.00,287.40 L877.97,287.53 L878.94,287.65 L879.90,287.78 L880.87,287.91 L881.84,288.03 L882.82,288.16 L883.80,288.29 L884.79,288.43 L885.79,288.56 L886.80,288.70 L887.83,288.84 L888.88,288.98 L889.94,289.12 L891.02,289.26 L892.10,289.40 L893.20,289.54 L894.30,289.68 L895.40,289.82 L896.50,289.96 L897.60,290.10 L898.69,290.24 L899.77,290.38 L900.84,290.53 L901.89,290.67 L902.93,290.81 L903.94,290.96 L904.93,291.11 L905.89,291.25 L906.82,291.40 L907.72,291.55 L908.59,291.70 L909.42,291.85 L910.20,292.00 L911.58,292.29 L912.83,292.56 L913.95,292.84 L914.97,293.11 L915.90,293.38 L916.78,293.66 L917.62,293.95 L918.43,294.26 L919.25,294.58 L920.09,294.93 L920.96,295.30 L921.90,295.70 L922.80,296.10 L923.70,296.52 L924.60,296.96 L925.50,297.42 L926.40,297.90 L927.30,298.39 L928.20,298.90 L929.10,299.41 L930.00,299.92 L930.90,300.45 L931.80,300.97 L932.70,301.49 L933.60,302.00 L934.50,302.52 L935.40,303.07 L936.30,303.63 L937.20,304.20 L938.10,304.78 L939.00,305.36 L939.90,305.93 L940.80,306.49 L941.70,307.05 L942.60,307.60 L943.49,308.10 L944.41,308.56 L945.30,309.04 L946.22,309.45 L947.13,309.82 L947.96,310.18 L948.77,310.55 L949.60,310.82 L950.43,311.15 L951.27,311.46 L952.21,311.81 L953.25,312.07 L954.38,312.32 L955.58,312.56 L957.06,313.01 L957.79,313.20 L958.66,313.31 L959.42,313.69 L960.37,313.84 L961.36,314.14 L962.34,314.05 L963.23,314.56 L964.33,314.49 L965.23,314.76 L966.27,315.02 L967.49,315.31 L968.49,315.32 L969.57,315.98 L970.74,315.92 L971.79,316.31 L972.96,316.17 L974.05,316.49 L975.10,316.62 L976.14,316.87 L977.22,316.86 L978.23,317.39 L979.22,317.32 L980.47,317.55 L981.37,317.69 L982.59,317.75 L983.59,318.46 L984.50,318.30 L985.81,318.61 L986.73,318.32 L987.86,318.72 L989.06,318.81 L990.03,319.25 L991.30,319.14 L992.20,319.47 L993.52,319.27 L994.61,319.87 L995.39,319.96 L996.41,319.53 L997.63,319.94 L998.52,320.17 L999.68,320.54 L1000.19,320.49 L1001.33,320.47 L1002.40,320.52 L1003.07,321.10 L1003.87,320.79 L1005.29,321.28 L1006.70,321.33 L1007.85,320.75 L1009.22,321.38 L1010.43,321.69 L1011.20,321.23 L1012.22,321.90 L1013.19,321.24 L1014.40,321.77 L1014.86,321.94 L1015.92,321.79 L1016.23,322.05 L1016.96,321.98" fill="none" stroke="#ff8000" stroke-width="2.70" stroke-linejoin="round" stroke-linecap="butt"/>
<path d="M842.60,14.00 C843.32,18.02 845.48,29.40 846.90,38.10 C848.32,46.80 849.70,57.77 851.10,66.20 C852.50,74.63 853.90,81.67 855.30,88.70 C856.70,95.73 858.20,103.18 859.50,108.40 C860.80,113.62 861.40,113.70 863.10,120.00 C864.80,126.30 867.52,137.45 869.70,146.20 C871.88,154.95 874.02,164.85 876.20,172.50 C878.38,180.15 880.33,186.10 882.80,192.10 C885.27,198.10 888.27,203.03 891.00,208.50 C893.73,213.97 895.65,219.43 899.20,224.90 C902.75,230.37 908.52,237.03 912.30,241.30 C916.08,245.57 918.35,247.40 921.90,250.50 C925.45,253.60 929.70,257.17 933.60,259.90 C937.50,262.63 941.40,264.57 945.30,266.90 C949.20,269.23 954.07,271.55 957.00,273.90 C959.93,276.25 960.95,277.68 962.90,281.00 C964.85,284.32 966.75,288.93 968.70,293.80 C970.65,298.67 972.83,306.10 974.60,310.20 C976.37,314.30 977.55,316.63 979.30,318.40 C981.05,320.17 983.32,320.20 985.10,320.80 C986.88,321.40 988.75,320.97 990.00,322.00 C991.25,323.03 991.77,327.00 992.60,327.00 C993.43,327.00 993.12,322.92 995.00,322.00 C996.88,321.08 1000.23,321.50 1003.90,321.50 C1007.57,321.50 1014.82,321.92 1017.00,322.00" fill="none" stroke="#ff0000" stroke-width="2.70" stroke-linejoin="round" stroke-linecap="butt"/>
</g>
<rect x="606.00" y="14.00" width="412.00" height="340.00" fill="none" stroke="#000" stroke-width="2"/>
<line x1="651.78" y1="354.00" x2="651.78" y2="350.00" stroke="#000" stroke-width="2.00"/>
<line x1="651.78" y1="14.00" x2="651.78" y2="18.00" stroke="#000" stroke-width="2.00"/>
<line x1="697.56" y1="354.00" x2="697.56" y2="347.00" stroke="#000" stroke-width="2.00"/>
<line x1="697.56" y1="14.00" x2="697.56" y2="21.00" stroke="#000" stroke-width="2.00"/>
<line x1="743.33" y1="354.00" x2="743.33" y2="350.00" stroke="#000" stroke-width="2.00"/>
<line x1="743.33" y1="14.00" x2="743.33" y2="18.00" stroke="#000" stroke-width="2.00"/>
<line x1="789.11" y1="354.00" x2="789.11" y2="347.00" stroke="#000" stroke-width="2.00"/>
<line x1="789.11" y1="14.00" x2="789.11" y2="21.00" stroke="#000" stroke-width="2.00"/>
<line x1="834.89" y1="354.00" x2="834.89" y2="350.00" stroke="#000" stroke-width="2.00"/>
<line x1="834.89" y1="14.00" x2="834.89" y2="18.00" stroke="#000" stroke-width="2.00"/>
<line x1="880.67" y1="354.00" x2="880.67" y2="347.00" stroke="#000" stroke-width="2.00"/>
<line x1="880.67" y1="14.00" x2="880.67" y2="21.00" stroke="#000" stroke-width="2.00"/>
<line x1="926.44" y1="354.00" x2="926.44" y2="350.00" stroke="#000" stroke-width="2.00"/>
<line x1="926.44" y1="14.00" x2="926.44" y2="18.00" stroke="#000" stroke-width="2.00"/>
<line x1="972.22" y1="354.00" x2="972.22" y2="347.00" stroke="#000" stroke-width="2.00"/>
<line x1="972.22" y1="14.00" x2="972.22" y2="21.00" stroke="#000" stroke-width="2.00"/>
<line x1="606.00" y1="297.33" x2="609.50" y2="297.33" stroke="#000" stroke-width="2.00"/>
<line x1="606.00" y1="256.86" x2="612.50" y2="256.86" stroke="#000" stroke-width="2.00"/>
<line x1="606.00" y1="216.38" x2="609.50" y2="216.38" stroke="#000" stroke-width="2.00"/>
<line x1="606.00" y1="175.90" x2="612.50" y2="175.90" stroke="#000" stroke-width="2.00"/>
<line x1="606.00" y1="135.43" x2="609.50" y2="135.43" stroke="#000" stroke-width="2.00"/>
<line x1="606.00" y1="94.95" x2="612.50" y2="94.95" stroke="#000" stroke-width="2.00"/>
<line x1="606.00" y1="54.48" x2="609.50" y2="54.48" stroke="#000" stroke-width="2.00"/>
<line x1="606.00" y1="337.81" x2="612.50" y2="337.81" stroke="#000" stroke-width="2.00"/>
<text transform="translate(577.55,344.81) scale(0.8700,1)" font-family='"Liberation Serif",serif' font-size="21.20">0.0</text>
<text transform="translate(577.57,263.85) scale(0.8700,1)" font-family='"Liberation Serif",serif' font-size="21.20">0.5</text>
<text transform="translate(577.55,182.90) scale(0.8700,1)" font-family='"Liberation Serif",serif' font-size="21.20">1.0</text>
<text transform="translate(577.57,101.95) scale(0.8700,1)" font-family='"Liberation Serif",serif' font-size="21.20">1.5</text>
<text transform="translate(577.55,21.00) scale(0.8700,1)" font-family='"Liberation Serif",serif' font-size="21.20">2.0</text>
<text transform="translate(592.00,376.87) scale(0.9000,1)" font-family='"Liberation Serif",serif' font-size="21.00">400</text>
<text transform="translate(683.19,376.87) scale(0.9000,1)" font-family='"Liberation Serif",serif' font-size="21.00">500</text>
<text transform="translate(774.89,376.87) scale(0.9000,1)" font-family='"Liberation Serif",serif' font-size="21.00">600</text>
<text transform="translate(866.23,376.87) scale(0.9000,1)" font-family='"Liberation Serif",serif' font-size="21.00">700</text>
<text transform="translate(958.05,376.87) scale(0.9000,1)" font-family='"Liberation Serif",serif' font-size="21.00">800</text>
<text transform="translate(705.81,406.78) scale(0.8352,1)" font-family='"Liberation Sans",sans-serif' font-size="24.10" fill="#000">WAVELENGTH</text>
<text transform="translate(867.42,407.44) scale(0.8813,1)" font-family='"Liberation Sans",sans-serif' font-size="21.68" fill="#000">(nm )</text>
<text transform="translate(551.49,298.34) rotate(-90) scale(0.9475,1)" font-family='"Liberation Sans",sans-serif' font-size="23.64" fill="#000">ABSORBANCE</text>
<text transform="translate(551.52,119.24) rotate(-90) scale(0.9487,1)" font-family='"Liberation Sans",sans-serif' font-size="22.84" fill="#000">(a.u. )</text>
<text transform="translate(721.05,60.70) scale(0.9185,1)" font-family='"Liberation Sans",sans-serif' font-size="37.68" fill="#000">(b)</text>
<line x1="846.40" y1="31.40" x2="875.10" y2="31.40" stroke="#008000" stroke-width="2.6"/>
<line x1="846.40" y1="59.90" x2="875.10" y2="59.90" stroke="#ff8000" stroke-width="2.6"/>
<line x1="846.40" y1="82.80" x2="875.10" y2="82.80" stroke="#ff0000" stroke-width="2.6"/>
<text transform="translate(877.93,35.97) scale(0.8576,1)" font-family='"Liberation Sans",sans-serif' font-weight="bold" font-size="13.34" fill="#000">MAPbBr</text>
<text transform="translate(923.23,41.35) scale(0.8807,1)" font-family='"Liberation Sans",sans-serif' font-weight="bold" font-size="13.25" fill="#000">3</text>
<text transform="translate(878.08,65.24) scale(0.7607,1)" font-family='"Liberation Sans",sans-serif' font-weight="bold" font-size="19.10" fill="#000">(</text>
<text transform="translate(883.54,64.48) scale(0.9198,1)" font-family='"Liberation Sans",sans-serif' font-weight="bold" font-size="12.39" fill="#000">FAPbI</text>
<text transform="translate(915.85,69.35) scale(0.8177,1)" font-family='"Liberation Sans",sans-serif' font-weight="bold" font-size="13.53" fill="#000">3</text>
<text transform="translate(922.89,65.24) scale(0.7607,1)" font-family='"Liberation Sans",sans-serif' font-weight="bold" font-size="19.10" fill="#000">)</text>
<text transform="translate(927.98,69.90) scale(0.8501,1)" font-family='"Liberation Sans",sans-serif' font-weight="bold" font-size="13.52" fill="#000">1-x</text>
<text transform="translate(945.12,65.29) scale(0.8073,1)" font-family='"Liberation Sans",sans-serif' font-weight="bold" font-size="19.31" fill="#000">(</text>
<text transform="translate(950.64,64.97) scale(0.8605,1)" font-family='"Liberation Sans",sans-serif' font-weight="bold" font-size="13.21" fill="#000">MAPbBr</text>
<text transform="translate(995.71,69.64) scale(0.8676,1)" font-family='"Liberation Sans",sans-serif' font-weight="bold" font-size="14.38" fill="#000">3</text>
<text transform="translate(1002.29,65.29) scale(0.7339,1)" font-family='"Liberation Sans",sans-serif' font-weight="bold" font-size="19.31" fill="#000">)</text>
<text transform="translate(1007.63,69.80) scale(0.7911,1)" font-family='"Liberation Sans",sans-serif' font-weight="bold" font-size="13.06" fill="#000">x</text>
<text transform="translate(877.84,87.97) scale(0.8629,1)" font-family='"Liberation Sans",sans-serif' font-weight="bold" font-size="13.21" fill="#000">FAPbI</text>
<text transform="translate(911.11,92.66) scale(0.9881,1)" font-family='"Liberation Sans",sans-serif' font-weight="bold" font-size="12.83" fill="#000">3</text>
</svg></body></html>
